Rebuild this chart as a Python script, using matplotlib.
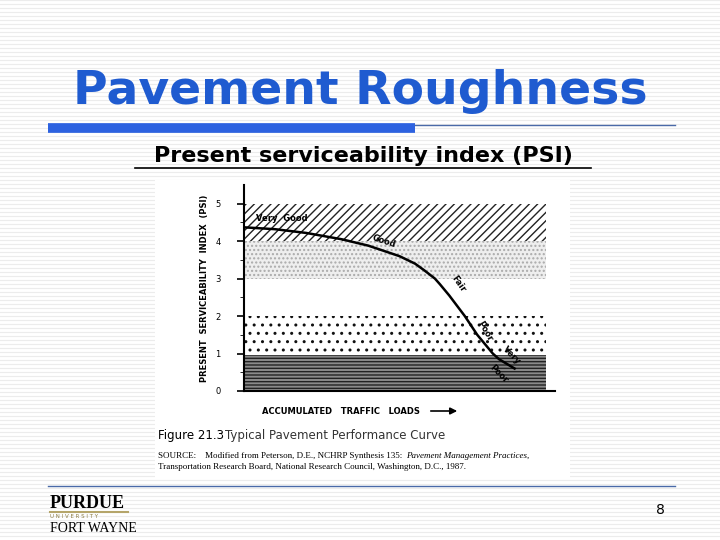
import matplotlib
matplotlib.use("Agg")
import matplotlib.pyplot as plt
import numpy as np

loads = [0, 10, 20, 31.5, 40, 50, 55, 58, 61.4, 63, 66, 68, 71, 73, 75, 77, 80, 82, 84, 87]
psi = [4.37, 4.32, 4.22, 4.05, 3.88, 3.6, 3.4, 3.22, 3.0, 2.85, 2.55, 2.33, 2.0, 1.75, 1.5, 1.3, 1.0, 0.85, 0.75, 0.6]
psi_ticks = [0, 1, 2, 3, 4, 5]
band_lo = [0, 1, 3, 4]
band_hi = [0.95, 2, 4, 5]
band_hatch = ['-----', '..', '....', '////']
band_face = ['#8a8a8a', 'white', '#eeeeee', 'white']
band_edge = ['#222222', '#111111', '#aaaaaa', '#222222']

W, H = 720, 540
fig = plt.figure(figsize=(7.2, 5.4), dpi=100)
bg = fig.add_axes([0, 0, 1, 1]); bg.set_xlim(0, W); bg.set_ylim(H, 0); bg.axis('off')
for y in range(0, H, 4):
    bg.axhline(y, color='#ececec', lw=0.8, zorder=0)
bg.text(360, 92, 'Pavement Roughness', color='#1f5bd0', fontsize=34, fontweight='bold',
        ha='center', va='center')
bg.plot([48, 415], [128, 128], color='#2d62e0', lw=7, solid_capstyle='butt')
bg.plot([415, 675], [124.5, 124.5], color='#4a6aa8', lw=1)
bg.text(363, 156, 'Present serviceability index (PSI)', fontsize=16, fontweight='bold',
        ha='center', va='center')
bg.plot([135, 591], [168, 168], color='black', lw=1.2)
bg.add_patch(plt.Rectangle((155, 180), 415, 298, facecolor='white', edgecolor='none'))
bg.plot([48, 675], [486, 486], color='#4a6aa8', lw=1)
bg.text(50, 503, 'PURDUE', fontsize=13, fontweight='bold', family='Liberation Serif', va='center')
bg.plot([50, 128], [512, 512], color='#b5a56a', lw=1.5)
bg.text(50, 516, 'U N I V E R S I T Y', fontsize=4, color='#8a7a40', va='center')
bg.text(50, 528, 'FORT WAYNE', fontsize=10, family='Liberation Serif', va='center')
bg.text(660, 510, '8', fontsize=10, ha='center', va='center')
bg.text(158, 435, 'Figure 21.3', fontsize=8.5, va='center')
bg.text(225, 435, 'Typical Pavement Performance Curve', fontsize=8.5, va='center', color='#333333')
bg.text(158, 456, 'SOURCE:    Modified from Peterson, D.E., NCHRP Synthesis 135: ', fontsize=6.5,
        family='Liberation Serif', va='center')
bg.text(406, 456, 'Pavement Management Practices,', fontsize=6.5, family='Liberation Serif',
        style='italic', va='center')
bg.text(158, 467, 'Transportation Research Board, National Research Council, Washington, D.C., 1987.',
        fontsize=6.5, family='Liberation Serif', va='center')
bg.text(262, 411, 'ACCUMULATED   TRAFFIC   LOADS', fontsize=6, fontweight='bold', va='center')
bg.annotate('', xy=(460, 411), xytext=(428, 411),
            arrowprops=dict(arrowstyle='-|>', color='black', lw=1.2))

ax = fig.add_axes([244 / W, 1 - 391 / H, (555 - 244) / W, (391 - 185) / H])
ax.set_xlim(0, 100); ax.set_ylim(0, 5.5)
for lo, hi, h, fc, ec in zip(band_lo, band_hi, band_hatch, band_face, band_edge):
    ax.fill_between([0, 97], lo, hi, facecolor=fc, hatch=h, edgecolor=ec, lw=0)
ax.plot(loads, psi, color='black', lw=1.8)
for s in ['top', 'right']:
    ax.spines[s].set_visible(False)
ax.spines['left'].set_linewidth(1.5); ax.spines['bottom'].set_linewidth(1.5)
ax.set_xticks([])
ax.set_yticks(psi_ticks)
ax.set_yticks(np.arange(0, 5.1, 0.5), minor=True)
ax.tick_params(axis='y', labelsize=6, length=5, width=1.2, pad=12)
ax.tick_params(axis='y', which='minor', length=3)
ax.set_ylabel('PRESENT  SERVICEABILITY  INDEX  (PSI)', fontsize=6, fontweight='bold', labelpad=4)
lab = dict(fontsize=6, fontweight='bold', ha='center', va='center')
ax.text(12, 4.6, 'Very  Good', **lab)
ax.text(45, 4.0, 'Good', rotation=-18, **lab)
ax.text(69, 2.85, 'Fair', rotation=-55, **lab)
ax.text(77.5, 1.6, 'Poor', rotation=-60, **lab)
ax.text(86, 0.95, 'Very', rotation=-45, **lab)
ax.text(82, 0.45, 'Poor', rotation=-45, **lab)
fig.savefig('out.png', dpi=100)
